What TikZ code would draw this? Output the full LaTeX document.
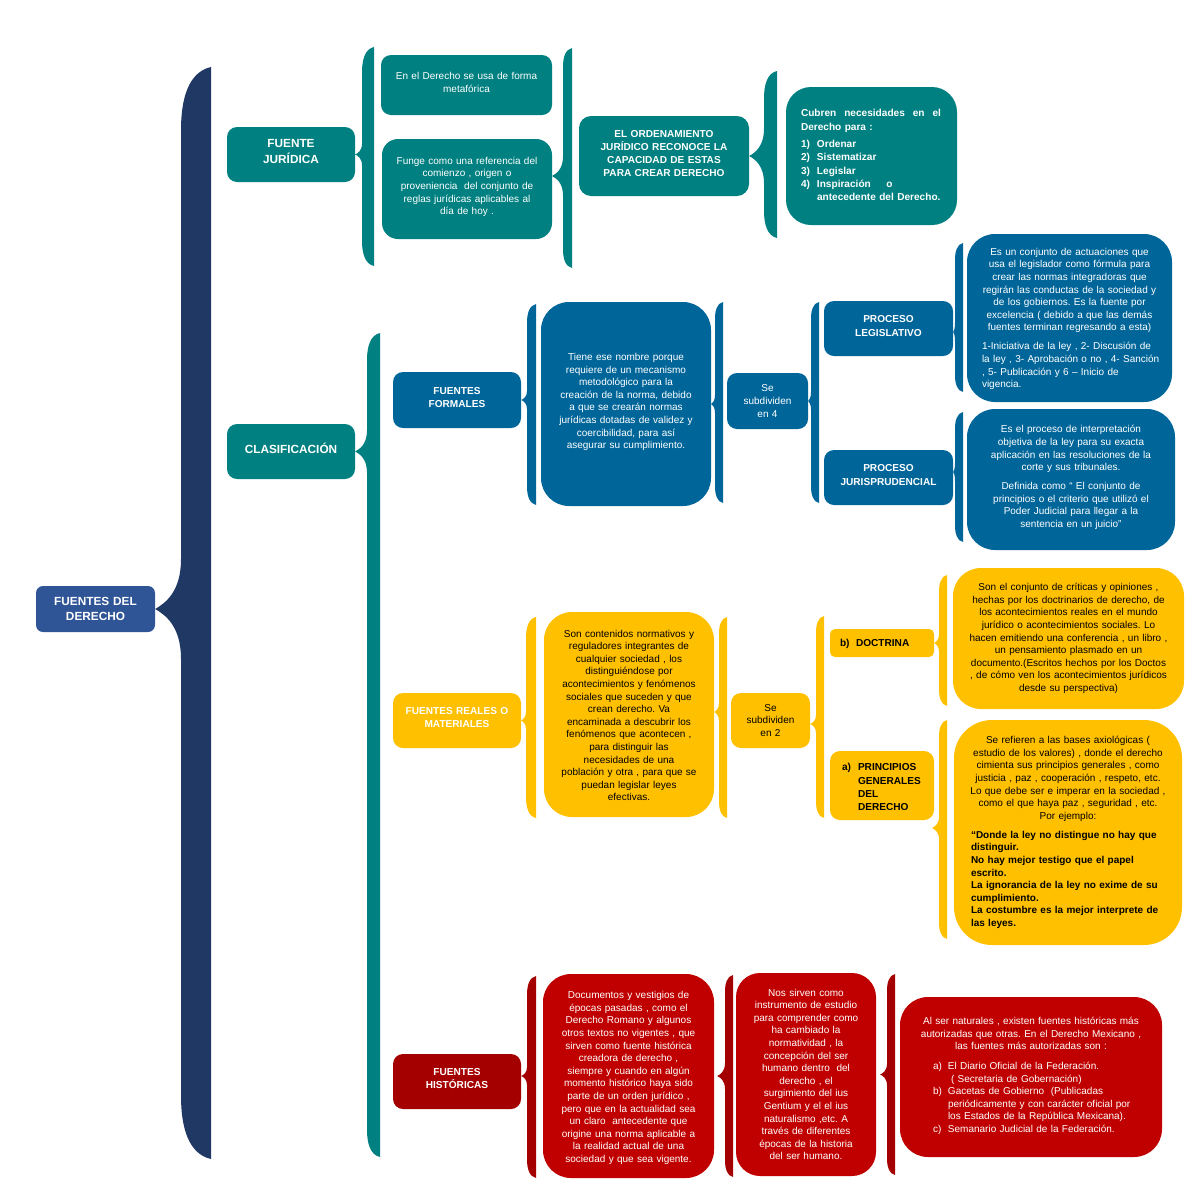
\documentclass[tikz,border=0pt]{standalone}
\usepackage{fontspec}
\setmainfont{Liberation Sans}
\usetikzlibrary{calc}

\definecolor{navy}{HTML}{1F3864}
\definecolor{rootblue}{HTML}{2F5597}
\definecolor{teal}{HTML}{008080}
\definecolor{formal}{HTML}{00669A}
\definecolor{amber}{HTML}{FFC000}
\definecolor{crimson}{HTML}{C00000}
\definecolor{maroon}{HTML}{A50000}

\tikzset{
    box/.style={rectangle, inner sep=0pt, align=center, text=white, font=\frenchspacing\fontsize{10}{12.6}\selectfont},
    size/.style 2 args={text width=#1pt, minimum height=#2pt},
    head/.style={font=\bfseries\fontsize{11.8}{15.2}\selectfont},
    strong/.style={font=\frenchspacing\bfseries\fontsize{10.1}{13.2}\selectfont},
    tealbox/.style={box, fill=teal},
    formalbox/.style={box, fill=formal},
    amberbox/.style={box, fill=amber, text=black},
    crimsonbox/.style={box, fill=crimson}
}

\newcommand{\lift}[1]{\par\vspace{\dimexpr#1pt-2pt\relax}}
\newcommand{\numlab}[1]{\makebox[16pt][l]{#1}}
\newcommand{\bracket}[6]{%
    \fill[#1] let \p1=(#2), \n1={#3pt-\x1}, \n2={max(9pt,2.05*\n1-3pt)}, \n3={2.1*(#4pt-#3pt)} in
    (#4pt,-#5pt) .. controls ({#3pt+.25*(#4pt-#3pt)},{-#5pt-.08*\n3}) and (#3pt,{-#5pt-.5*\n3}) .. (#3pt,{-#5pt-\n3})
    -- (#3pt,{\y1+\n2}) .. controls (#3pt,{\y1+.35*\n2}) and ({\x1+.4*\n1},{\y1+.12*\n2}) .. (\x1,\y1)
    .. controls ({\x1+.4*\n1},{\y1-.12*\n2}) and (#3pt,{\y1-.35*\n2}) .. (#3pt,{\y1-\n2})
    -- (#3pt,{-#6pt+\n3}) .. controls (#3pt,{-#6pt+.5*\n3}) and ({#3pt+.25*(#4pt-#3pt)},{-#6pt+.08*\n3}) .. (#4pt,-#6pt)
    -- cycle;}

\begin{document}
\begin{tikzpicture}[x=1pt, y=-1pt]
    \useasboundingbox (0,0) rectangle (1200,1200);

    \node (root) [box, head, fill=rootblue, size={119}{46}, rounded corners=7pt] at (95.5,609) {FUENTES DEL\\DERECHO};

    \node (jur) [tealbox, head, size={128}{55}, rounded corners=10pt] at (291,154.5) {FUENTE\\JURÍDICA\lift{8}};
    \node (cla) [tealbox, head, size={128}{55}, rounded corners=10pt] at (291,451.5) {CLASIFICACIÓN\lift{8}};
    \node (meta) [tealbox, size={171}{60}, rounded corners=10pt] at (466.5,85) {En el Derecho se usa de forma\\metafórica\lift{7}};
    \node (fun) [tealbox, size={170}{100}, rounded corners=16pt] at (467,189) {Funge como una referencia del\\comienzo , origen o\\proveniencia\ \ del conjunto de\\reglas jurídicas aplicables al\\día de hoy .\lift{6}};
    \node (ord) [tealbox, strong, size={170}{80}, rounded corners=12pt] at (664,156) {EL ORDENAMIENTO\\JURÍDICO RECONOCE LA\\CAPACIDAD DE ESTAS\\PARA CREAR DERECHO\lift{7}};
    \node (cub) [tealbox, strong, align=left, size={171}{138}, rounded corners=25pt] at (871.5,156) {\leftskip=15pt
        \hbox to 140pt{Cubren\hfill necesidades\hfill en\hfill el}
        Derecho para :\par\vspace{4.4pt}
        \numlab{1)}Ordenar\\
        \numlab{2)}Sistematizar\\
        \numlab{3)}Legislar\\
        \numlab{4)}Inspiración\hspace{12pt} o\\
        \numlab{}antecedente del Derecho.\lift{4}};

    \node (ffor) [formalbox, strong, size={128}{56}, rounded corners=10pt] at (457,400) {FUENTES\\FORMALES\lift{7}};
    \node (fbig) [formalbox, size={170}{204}, rounded corners=28pt] at (626,404) {Tiene ese nombre porque\\requiere de un mecanismo\\metodológico para la\\creación de la norma, debido\\a que se crearán normas\\jurídicas dotadas de validez y\\coercibilidad, para así\\asegurar su cumplimiento.\lift{6}};
    \node (sub4) [formalbox, size={81}{56}, rounded corners=10pt] at (767.5,401) {Se\\subdividen\\en 4};
    \node (pleg) [formalbox, strong, size={129}{55}, rounded corners=10pt] at (888.5,328.5) {PROCESO\\LEGISLATIVO\lift{7}};
    \node (pjur) [formalbox, strong, size={129}{55}, rounded corners=10pt] at (888.5,477.5) {PROCESO\\JURISPRUDENCIAL\lift{7}};
    \node (tleg) [formalbox, size={205}{168}, rounded corners=28pt] at (1069.5,318) {Es un conjunto de actuaciones que\\usa el legislador como fórmula para\\crear las normas integradoras que\\regirán las conductas de la sociedad y\\de los gobiernos. Es la fuente por\\excelencia ( debido a que las demás\\fuentes terminan regresando a esta)\par\vspace{6.4pt}
        \raggedright\leftskip=15pt
        1-Iniciativa de la ley , 2- Discusión de\\la ley , 3- Aprobación o no , 4- Sanción\\, 5- Publicación y 6 – Inicio de\\vigencia.\lift{0}};
    \node (tjur) [formalbox, size={208}{141}, rounded corners=28pt] at (1071,479.5) {Es el proceso de interpretación\\objetiva de la ley para su exacta\\aplicación en las resoluciones de la\\corte y sus tribunales.\par\vspace{6.4pt}
        Definida como “ El conjunto de\\principios o el criterio que utilizó el\\Poder Judicial para llegar a la\\sentencia en un juicio”\lift{6}};

    \node (frea) [box, strong, fill=amber, size={128}{55}, rounded corners=10pt] at (457,720.5) {FUENTES REALES O\\MATERIALES\lift{8}};
    \node (abig) [amberbox, size={170}{205}, rounded corners=28pt] at (629,714.5) {Son contenidos normativos y\\reguladores integrantes de\\cualquier sociedad , los\\distinguiéndose por\\acontecimientos y fenómenos\\sociales que suceden y que\\crean derecho. Va\\encaminada a descubrir los\\fenómenos que acontecen ,\\para distinguir las\\necesidades de una\\población y otra , para que se\\puedan legislar leyes\\efectivas.\lift{0}};
    \node (sub2) [amberbox, size={79}{55}, rounded corners=10pt] at (770.5,720.5) {Se\\subdividen\\en 2};
    \node (doc) [amberbox, strong, align=left, size={104}{28}, rounded corners=5pt] at (882,643) {\leftskip=10pt\numlab{b)}DOCTRINA\lift{0}};
    \node (pri) [amberbox, strong, align=left, size={104}{69}, rounded corners=10pt] at (882,785.5) {\leftskip=12pt\numlab{a)}PRINCIPIOS\\\numlab{}GENERALES\\\numlab{}DEL\\\numlab{}DERECHO\lift{-1}};
    \node (tdoc) [amberbox, size={231}{141}, rounded corners=28pt] at (1068.5,638.5) {Son el conjunto de críticas y opiniones ,\\hechas por los doctrinarios de derecho, de\\los acontecimientos reales en el mundo\\jurídico o acontecimientos sociales. Lo\\hacen emitiendo una conferencia , un libro ,\\un pensamiento plasmado en un\\documento.(Escritos hechos por los Doctos\\, de cómo ven los acontecimientos jurídicos\\desde su perspectiva)\lift{2}};
    \node (tpri) [amberbox, size={228}{225}, rounded corners=38pt] at (1068,832.5) {Se refieren a las bases axiológicas (\\estudio de los valores) , donde el derecho\\cimienta sus principios generales , como\\justicia , paz , cooperación , respeto, etc.\\Lo que debe ser e imperar en la sociedad ,\\como el que haya paz , seguridad , etc.\\Por ejemplo:\par\vspace{6.4pt}
        \raggedright\leftskip=17pt\bfseries
        “Donde la ley no distingue no hay que\\distinguir.\\No hay mejor testigo que el papel\\escrito.\\La ignorancia de la ley no exime de su\\cumplimiento.\\La costumbre es la mejor interprete de\\las leyes.\lift{2}};

    \node (fhis) [box, strong, fill=maroon, size={128}{55}, rounded corners=10pt] at (457,1081.5) {FUENTES\\HISTÓRICAS\lift{8}};
    \node (hone) [crimsonbox, size={171}{204}, rounded corners=28pt] at (628.5,1076) {Documentos y vestigios de\\épocas pasadas , como el\\Derecho Romano y algunos\\otros textos no vigentes , que\\sirven como fuente histórica\\creadora de derecho ,\\siempre y cuando en algún\\momento histórico haya sido\\parte de un orden jurídico ,\\pero que en la actualidad sea\\un claro\ \ antecedente que\\origine una norma aplicable a\\la realidad actual de una\\sociedad y que sea vigente.\lift{-2}};
    \node (htwo) [crimsonbox, size={140}{203}, rounded corners=24pt] at (806,1074.5) {Nos sirven como\\instrumento de estudio\\para comprender como\\ha cambiado la\\normatividad , la\\concepción del ser\\humano dentro\ \ del\\derecho , el\\surgimiento del ius\\Gentium y el el ius\\naturalismo ,etc. A\\través de diferentes\\épocas de la historia\\del ser humano.};
    \node (hthr) [crimsonbox, size={262}{160}, rounded corners=28pt] at (1031,1077) {Al ser naturales , existen fuentes históricas más\\autorizadas que otras. En el Derecho Mexicano ,\\las fuentes más autorizadas son :\par\vspace{7pt}
        \raggedright\leftskip=33pt
        \makebox[15pt][l]{a)}El Diario Oficial de la Federación.\\
        \makebox[15pt][l]{}\hspace{3pt}( Secretaria de Gobernación)\\
        \makebox[15pt][l]{b)}Gacetas de Gobierno\ \ (Publicadas\\
        \makebox[15pt][l]{}periódicamente y con carácter oficial por\\
        \makebox[15pt][l]{}los Estados de la República Mexicana).\\
        \makebox[15pt][l]{c)}Semanario Judicial de la Federación.\lift{4}};

    \coordinate (funtip) at (552,176);
    \coordinate (pritip) at (932,828);

    \bracket{navy}{root.east}{181}{211}{67}{1159}
    \bracket{teal}{jur.east}{362}{374}{47}{266}
    \bracket{teal}{cla.east}{367}{380}{333}{1157}
    \bracket{teal}{funtip}{563}{572}{48}{268}
    \bracket{teal}{ord.east}{764}{777}{71}{238}
    \bracket{formal}{ffor.east}{527}{536}{304}{505}
    \bracket{formal}{fbig.east}{715}{723}{302}{503}
    \bracket{formal}{sub4.east}{811}{819}{302}{503}
    \bracket{formal}{[yshift=-3.5pt]pleg.east}{955}{963}{243}{392}
    \bracket{formal}{[yshift=5.5pt]pjur.east}{955}{963}{412}{542}
    \bracket{amber}{frea.east}{526}{536}{617}{818}
    \bracket{amber}{[yshift=2.5pt]abig.east}{719}{727}{617}{818}
    \bracket{amber}{[yshift=-3.5pt]sub2.east}{816}{824}{616}{818}
    \bracket{amber}{doc.east}{939}{947}{575}{706}
    \bracket{amber}{pritip}{939}{947}{720}{939}
    \bracket{maroon}{[yshift=5.5pt]fhis.east}{527}{536}{976}{1178}
    \bracket{maroon}{[xshift=3pt]hone.east}{725}{733}{975}{1177}
    \bracket{maroon}{[xshift=4pt]htwo.east}{887}{895}{974}{1175}
\end{tikzpicture}
\end{document}
